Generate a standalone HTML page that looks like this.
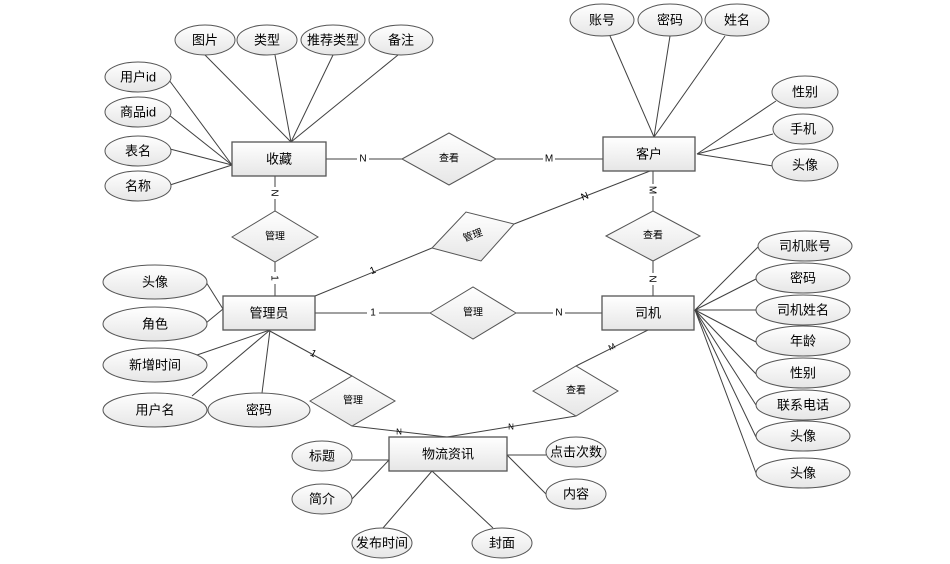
<!DOCTYPE html>
<html><head><meta charset="utf-8"><style>
html,body{margin:0;padding:0;background:#fff;}
svg{display:block;}
text{font-family:"Liberation Sans","Noto Sans CJK SC",sans-serif;font-size:13px;fill:#000;text-anchor:middle;dominant-baseline:central;}
.s{font-size:10px;}
.l{font-size:10px;}
</style></head><body>
<svg width="950" height="564" viewBox="0 0 950 564" xmlns="http://www.w3.org/2000/svg">
<defs>
<linearGradient id="g" x1="0" y1="0" x2="0" y2="1"><stop offset="0" stop-color="#fff"/><stop offset="1" stop-color="#e6e6e6"/></linearGradient>
</defs>
<g stroke="#404040" stroke-width="1" fill="none">
<!-- 收藏 attrs -->
<line x1="205" y1="55" x2="291" y2="142"/><line x1="275" y1="55" x2="291" y2="142"/><line x1="333" y1="55" x2="291" y2="142"/><line x1="398" y1="55" x2="291" y2="142"/>
<line x1="169" y1="80" x2="232" y2="165"/><line x1="169" y1="115" x2="232" y2="165"/><line x1="170" y1="149" x2="232" y2="165"/><line x1="170" y1="185" x2="232" y2="165"/>
<line x1="326" y1="159" x2="402" y2="159"/><line x1="496" y1="159" x2="603" y2="159"/>
<line x1="275" y1="176" x2="275" y2="211"/><line x1="275" y1="262" x2="275" y2="296"/>
<!-- 客户 attrs -->
<line x1="610" y1="36" x2="654" y2="137"/><line x1="670" y1="36" x2="654" y2="137"/><line x1="725" y1="36" x2="654" y2="137"/>
<line x1="776" y1="101" x2="697" y2="154"/><line x1="773" y1="134" x2="697" y2="154"/><line x1="773" y1="166" x2="697" y2="154"/>
<line x1="653" y1="171" x2="653" y2="211"/><line x1="653" y1="261" x2="653" y2="296"/>
<line x1="315" y1="296" x2="432" y2="248"/><line x1="514" y1="224" x2="650" y2="171"/>
<line x1="315" y1="313" x2="430" y2="313"/><line x1="516" y1="313" x2="602" y2="313"/>
<!-- 司机 attrs -->
<g><line x1="758" y1="247" x2="695" y2="310"/><line x1="756" y1="279" x2="695" y2="310"/><line x1="756" y1="310" x2="695" y2="310"/><line x1="756" y1="342" x2="695" y2="310"/><line x1="756" y1="374" x2="695" y2="310"/><line x1="756" y1="405" x2="695" y2="310"/><line x1="756" y1="437" x2="695" y2="310"/><line x1="756" y1="473" x2="695" y2="310"/></g>
<!-- 管理员 attrs -->
<line x1="206" y1="282" x2="223" y2="309"/><line x1="206" y1="323" x2="223" y2="309"/>
<line x1="197" y1="355" x2="270" y2="330"/><line x1="192" y1="396" x2="270" y2="330"/><line x1="262" y1="393" x2="270" y2="330"/>
<line x1="268" y1="330" x2="352" y2="376"/><line x1="352" y1="426" x2="447" y2="437"/>
<line x1="576" y1="366" x2="648" y2="330"/><line x1="576" y1="416" x2="447" y2="437"/>
<!-- 物流资讯 attrs -->
<line x1="352" y1="460" x2="389" y2="460"/><line x1="352" y1="499" x2="389" y2="460"/>
<line x1="383" y1="528" x2="432" y2="471"/><line x1="493" y1="528" x2="432" y2="471"/>
<line x1="507" y1="455" x2="546" y2="455"/><line x1="507" y1="455" x2="546" y2="494"/>
</g>
<!-- cardinality labels -->
<g class="l">
<rect x="357" y="152" width="12" height="14" fill="#fff"/><text x="363" y="159" class="l">N</text>
<rect x="543" y="152" width="12" height="14" fill="#fff"/><text x="549" y="159" class="l">M</text>
<rect x="268" y="187" width="14" height="12" fill="#fff"/><text x="274" y="193" class="l" transform="rotate(90 274 193)">N</text>
<rect x="268" y="272" width="14" height="12" fill="#fff"/><text x="274" y="278" class="l" transform="rotate(90 274 278)">1</text>
<rect x="646" y="184" width="14" height="12" fill="#fff"/><text x="652" y="190" class="l" transform="rotate(90 652 190)">M</text>
<rect x="646" y="273" width="14" height="12" fill="#fff"/><text x="652" y="279" class="l" transform="rotate(90 652 279)">N</text>
<text x="373" y="271" class="l" transform="rotate(-22 373 271)">1</text>
<text x="585" y="197" class="l" transform="rotate(-22 585 197)">N</text>
<rect x="367" y="306" width="12" height="14" fill="#fff"/><text x="373" y="313" class="l">1</text>
<rect x="553" y="306" width="12" height="14" fill="#fff"/><text x="559" y="313" class="l">N</text>
<text x="313" y="354" class="l" transform="rotate(28 313 354)">1</text>
<text x="399" y="432" class="l" style="font-size:8px">N</text>
<text x="511" y="427" class="l" style="font-size:8px">N</text>
<text x="612" y="347" class="l" style="font-size:8px" transform="rotate(-27 612 347)">M</text>
</g>
<!-- entities -->
<g fill="url(#g)" stroke="#555" stroke-width="1.3">
<rect x="232" y="142" width="94" height="34"/>
<rect x="603" y="137" width="92" height="34"/>
<rect x="223" y="296" width="92" height="34"/>
<rect x="602" y="296" width="92" height="34"/>
<rect x="389" y="437" width="118" height="34"/>
</g>
<g fill="url(#g)" stroke="#555" stroke-width="1">
<polygon points="402,159 449,133 496,159 449,185"/>
<polygon points="232,237 275,211 318,237 275,262"/>
<polygon points="432,248 466,212 514,224 481,261"/>
<polygon points="606,236 653,211 700,236 653,261"/>
<polygon points="430,313 473,287 516,313 473,339"/>
<polygon points="533,391 576,366 618,391 576,416"/>
<polygon points="310,401 352,376 395,401 352,426"/>
<!-- ellipses -->
<ellipse cx="205" cy="40" rx="30" ry="15"/><ellipse cx="267" cy="40" rx="30" ry="15"/><ellipse cx="333" cy="40" rx="32" ry="15"/><ellipse cx="401" cy="40" rx="32" ry="15"/>
<ellipse cx="138" cy="77" rx="33" ry="15"/><ellipse cx="138" cy="112" rx="33" ry="15"/><ellipse cx="138" cy="151" rx="33" ry="15"/><ellipse cx="138" cy="186" rx="33" ry="15"/>
<ellipse cx="602" cy="20" rx="32" ry="16"/><ellipse cx="670" cy="20" rx="32" ry="16"/><ellipse cx="737" cy="20" rx="32" ry="16"/>
<ellipse cx="805" cy="92" rx="33" ry="16"/><ellipse cx="803" cy="129" rx="30" ry="15"/><ellipse cx="805" cy="165" rx="33" ry="16"/>
<ellipse cx="805" cy="246" rx="47" ry="15"/><ellipse cx="803" cy="278" rx="47" ry="15"/><ellipse cx="803" cy="310" rx="47" ry="15"/><ellipse cx="803" cy="341" rx="47" ry="15"/><ellipse cx="803" cy="373" rx="47" ry="15"/><ellipse cx="803" cy="405" rx="47" ry="15"/><ellipse cx="803" cy="436" rx="47" ry="15"/><ellipse cx="803" cy="473" rx="47" ry="15"/>
<ellipse cx="155" cy="282" rx="52" ry="17"/><ellipse cx="155" cy="324" rx="52" ry="17"/><ellipse cx="155" cy="365" rx="52" ry="17"/><ellipse cx="155" cy="410" rx="52" ry="17"/><ellipse cx="259" cy="410" rx="51" ry="17"/>
<ellipse cx="322" cy="456" rx="30" ry="15"/><ellipse cx="322" cy="499" rx="30" ry="15"/><ellipse cx="382" cy="543" rx="30" ry="15"/><ellipse cx="502" cy="543" rx="30" ry="15"/><ellipse cx="576" cy="452" rx="30" ry="15"/><ellipse cx="576" cy="494" rx="30" ry="15"/>
</g>
<!-- texts -->
<text x="279" y="159">收藏</text><text x="649" y="154">客户</text><text x="269" y="313">管理员</text><text x="648" y="313">司机</text><text x="448" y="454">物流资讯</text>
<text class="s" x="449" y="159">查看</text><text class="s" x="275" y="237">管理</text><text class="s" x="473" y="236" transform="rotate(-20 473 236)">管理</text><text class="s" x="653" y="236">查看</text><text class="s" x="473" y="313">管理</text><text class="s" x="576" y="391">查看</text><text class="s" x="353" y="401">管理</text>
<text x="205" y="40">图片</text><text x="267" y="40">类型</text><text x="333" y="40">推荐类型</text><text x="401" y="40">备注</text>
<text x="138" y="77">用户id</text><text x="138" y="112">商品id</text><text x="138" y="151">表名</text><text x="138" y="186">名称</text>
<text x="602" y="20">账号</text><text x="670" y="20">密码</text><text x="737" y="20">姓名</text>
<text x="805" y="92">性别</text><text x="803" y="129">手机</text><text x="805" y="165">头像</text>
<text x="805" y="246">司机账号</text><text x="803" y="278">密码</text><text x="803" y="310">司机姓名</text><text x="803" y="341">年龄</text><text x="803" y="373">性别</text><text x="803" y="405">联系电话</text><text x="803" y="436">头像</text><text x="803" y="473">头像</text>
<text x="155" y="282">头像</text><text x="155" y="324">角色</text><text x="155" y="365">新增时间</text><text x="155" y="410">用户名</text><text x="259" y="410">密码</text>
<text x="322" y="456">标题</text><text x="322" y="499">简介</text><text x="382" y="543">发布时间</text><text x="502" y="543">封面</text><text x="576" y="452">点击次数</text><text x="576" y="494">内容</text>
</svg>
</body></html>
